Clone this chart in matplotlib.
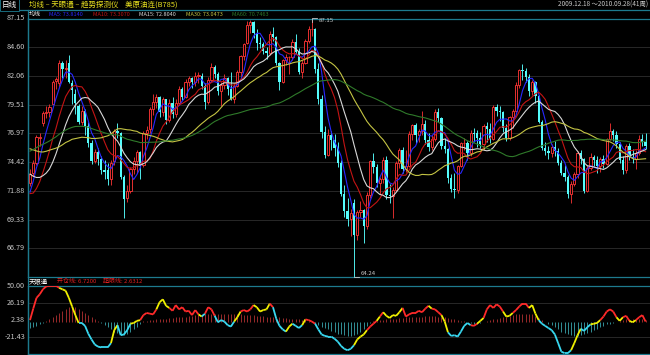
import numpy as np
import pandas as pd
import matplotlib
matplotlib.use("Agg")
import matplotlib.pyplot as plt
from matplotlib.collections import LineCollection
from matplotlib.transforms import blended_transform_factory

plt.rcParams["font.family"] = ["Noto Sans CJK SC", "DejaVu Sans"]

# closes before the first drawn bar, only used to warm up the moving averages
prior_close = [66.02, 66.84, 66.71, 70.61, 70.82, 69.95, 70.41, 70.88, 69.57, 71.69,
               71.77, 73.27, 74.15, 75.18, 77.58, 78.53, 79.61, 79.09, 81.37, 81.19,
               80.50, 78.68, 79.55, 77.46, 79.87, 77.00, 78.13, 79.60, 80.40, 79.62,
               77.43, 79.43, 79.05, 79.28, 76.94, 76.35, 78.90, 79.14, 79.58, 77.46,
               76.72, 77.56, 76.02, 77.96, 76.05, 77.28, 78.37, 76.60, 76.46, 75.47,
               73.93, 72.62, 70.67, 70.54, 69.87, 69.51, 70.69, 72.66, 72.61]

# daily bars 2009.12.18 - 2010.09.28
opens = [72.6, 73.5, 74.4, 76.6, 77.9, 78.8, 78.9, 79.6, 81.6, 81.4,
         83.2, 82.7, 83.2, 81.4, 80.5, 79.4, 78.0, 79.0, 77.6, 76.1,
         74.5, 75.3, 74.7, 73.7, 73.7, 72.9, 74.5, 77.2, 77.0, 73.1,
         71.3, 71.9, 73.8, 74.5, 75.3, 74.2, 77.0, 77.4, 79.1, 79.8,
         80.2, 78.9, 80.0, 78.2, 79.7, 78.7, 79.7, 80.9, 80.2, 81.5,
         81.9, 81.5, 82.1, 82.1, 81.2, 79.8, 81.7, 82.9, 82.2, 80.7,
         81.3, 81.9, 80.9, 80.0, 81.2, 82.4, 83.8, 85.0, 86.6, 86.8,
         85.9, 85.0, 84.9, 84.3, 84.1, 85.8, 85.5, 83.2, 81.5, 83.5,
         83.7, 83.7, 85.1, 84.2, 82.4, 83.2, 85.2, 86.2, 86.2, 82.7,
         80.0, 77.1, 75.1, 76.8, 76.4, 75.7, 74.4, 71.6, 70.1, 69.4,
         70.8, 68.0, 70.0, 70.2, 68.8, 71.5, 74.5, 74.0, 72.6, 72.9,
         74.6, 71.5, 71.4, 72.0, 74.4, 75.5, 73.8, 74.1, 76.9, 77.7,
         76.8, 77.2, 77.8, 76.4, 75.8, 76.5, 78.9, 78.3, 75.9, 75.6,
         73.0, 72.1, 72.0, 74.1, 76.1, 76.1, 75.2, 77.0, 77.0, 76.6,
         76.0, 77.6, 77.4, 76.5, 79.3, 79.0, 78.9, 77.5, 76.6, 78.4,
         79.0, 81.3, 82.6, 82.5, 82.0, 80.7, 81.5, 80.3, 78.0, 75.7,
         75.4, 75.2, 75.8, 75.4, 74.4, 73.5, 73.1, 71.6, 72.5, 73.4,
         75.2, 74.7, 71.9, 73.9, 74.9, 74.6, 74.1, 74.7, 74.3, 76.5,
         77.2, 76.8, 76.0, 74.6, 73.7, 75.9, 74.9, 74.7, 75.2, 76.5,
         76.2]
highs = [73.8, 74.6, 76.8, 77.0, 79.0, 79.4, 79.6, 81.7, 82.0, 83.5,
         83.4, 83.5, 83.95, 81.7, 80.9, 79.6, 79.4, 79.1, 78.0, 76.4,
         75.6, 75.7, 75.0, 74.6, 74.4, 74.6, 77.4, 77.9, 77.1, 73.3,
         72.4, 74.0, 74.9, 75.5, 75.4, 77.2, 77.6, 79.3, 80.5, 80.5,
         80.3, 80.2, 80.0, 80.0, 80.2, 80.0, 81.2, 81.1, 81.8, 82.1,
         82.0, 82.4, 82.4, 82.3, 81.4, 82.0, 83.2, 83.0, 82.4, 81.5,
         82.2, 82.0, 82.4, 81.4, 82.6, 83.9, 85.0, 86.9, 87.0, 86.9,
         86.2, 85.5, 85.1, 84.6, 86.0, 86.4, 85.6, 83.3, 83.6, 84.0,
         83.8, 85.3, 85.8, 84.5, 83.5, 85.3, 86.5, 87.15, 86.3, 83.2,
         80.4, 77.6, 77.4, 77.2, 76.9, 76.2, 74.6, 72.4, 71.3, 70.3,
         71.2, 70.2, 71.0, 70.3, 71.8, 74.6, 75.2, 74.3, 73.1, 74.9,
         75.0, 72.5, 72.2, 74.5, 75.7, 75.8, 75.5, 77.2, 77.8, 77.9,
         77.4, 79.0, 78.2, 77.0, 76.8, 79.1, 79.2, 78.4, 76.6, 75.7,
         73.4, 73.5, 74.2, 76.2, 76.6, 76.3, 77.3, 77.5, 77.3, 77.1,
         77.8, 78.0, 77.9, 79.5, 79.6, 79.4, 79.0, 77.8, 78.5, 79.1,
         81.5, 82.7, 83.1, 82.8, 82.2, 81.7, 81.6, 80.4, 78.2, 76.2,
         75.9, 76.0, 76.3, 75.7, 74.6, 74.2, 73.3, 72.8, 73.6, 75.4,
         75.5, 74.8, 74.2, 75.2, 75.1, 75.0, 74.9, 75.1, 76.6, 77.9,
         77.4, 77.2, 76.2, 75.0, 76.0, 76.1, 75.6, 75.5, 76.8, 76.9,
         77.0]
lows = [72.3, 73.2, 74.2, 75.9, 77.6, 78.3, 78.4, 79.6, 80.9, 81.1,
        81.9, 81.9, 81.4, 79.6, 78.7, 77.8, 77.7, 76.8, 75.8, 74.3,
        74.4, 74.2, 73.4, 72.9, 72.4, 72.4, 74.2, 76.6, 72.9, 69.5,
        70.9, 71.7, 73.4, 73.5, 72.9, 74.0, 76.5, 77.0, 78.6, 79.2,
        78.4, 78.5, 77.8, 78.0, 78.3, 78.4, 79.5, 79.9, 80.1, 81.2,
        81.0, 81.2, 81.4, 80.9, 79.1, 79.6, 81.5, 81.9, 80.4, 79.4,
        80.9, 80.4, 79.9, 79.7, 81.1, 81.8, 83.5, 84.9, 85.9, 85.4,
        84.4, 84.5, 84.0, 83.6, 83.9, 85.2, 83.0, 80.8, 81.4, 83.0,
        82.2, 83.5, 84.0, 82.2, 81.9, 83.1, 85.0, 85.6, 82.3, 79.6,
        76.6, 74.8, 75.0, 75.5, 75.0, 74.0, 71.4, 69.6, 68.8, 67.9,
        64.24, 67.5, 69.6, 67.3, 68.5, 71.3, 73.5, 72.2, 71.6, 72.6,
        71.2, 70.8, 69.5, 71.9, 73.9, 73.5, 73.6, 74.0, 76.4, 76.1,
        76.2, 76.8, 76.0, 75.4, 75.5, 76.3, 78.0, 75.6, 75.2, 72.6,
        71.8, 71.3, 71.7, 74.0, 75.5, 74.6, 75.0, 76.2, 75.8, 75.7,
        75.5, 76.2, 76.1, 76.4, 78.5, 78.1, 77.1, 76.3, 76.4, 77.5,
        78.9, 81.0, 81.7, 81.5, 80.3, 80.4, 79.7, 77.9, 75.5, 75.1,
        74.7, 74.9, 75.0, 74.2, 73.3, 72.8, 71.3, 70.8, 72.3, 73.0,
        74.3, 71.7, 71.8, 73.7, 74.1, 73.5, 73.6, 73.9, 74.2, 76.4,
        76.3, 75.7, 74.4, 73.4, 73.5, 74.6, 74.4, 73.8, 75.1, 75.9,
        75.6]
closes = [73.4, 74.4, 76.7, 76.7, 78.8, 78.9, 79.3, 81.5, 81.8, 83.2,
          82.7, 82.8, 81.5, 80.8, 79.7, 78.0, 79.0, 77.6, 76.1, 74.5,
          75.3, 74.7, 73.7, 73.6, 72.9, 74.4, 77.2, 77.0, 73.1, 71.2,
          71.9, 73.8, 74.5, 75.3, 74.1, 77.0, 77.3, 79.1, 79.8, 80.2,
          78.9, 80.0, 78.2, 79.7, 78.7, 79.7, 80.9, 80.2, 81.5, 81.9,
          81.5, 82.1, 82.1, 81.2, 79.8, 81.7, 82.9, 82.2, 80.7, 81.3,
          81.9, 80.9, 80.0, 81.2, 82.4, 83.8, 84.9, 86.6, 86.8, 85.9,
          85.0, 84.9, 84.3, 84.1, 85.8, 85.5, 83.2, 81.5, 83.5, 83.7,
          83.7, 85.1, 84.2, 82.4, 83.2, 85.2, 86.2, 86.2, 82.7, 80.0,
          77.1, 75.1, 76.8, 76.4, 75.7, 74.4, 71.6, 70.1, 69.4, 69.9,
          68.0, 70.0, 70.2, 68.8, 71.5, 74.5, 74.0, 72.6, 72.9, 74.6,
          71.5, 71.4, 72.0, 74.4, 75.5, 73.8, 74.1, 76.9, 77.7, 76.8,
          77.2, 77.8, 76.4, 75.8, 76.5, 78.9, 78.3, 75.9, 75.6, 73.0,
          72.1, 72.0, 74.1, 76.1, 76.1, 75.2, 77.0, 76.9, 76.6, 76.0,
          77.6, 77.4, 76.5, 79.3, 79.0, 78.9, 77.5, 76.6, 78.4, 79.0,
          81.3, 82.6, 82.5, 82.0, 80.7, 81.5, 80.3, 78.0, 75.7, 75.4,
          75.2, 75.8, 75.4, 74.4, 73.5, 73.1, 71.6, 72.5, 73.4, 75.2,
          74.7, 71.9, 73.9, 74.9, 74.6, 74.1, 74.7, 74.3, 76.5, 77.2,
          76.8, 76.0, 74.6, 73.7, 75.9, 74.9, 74.7, 75.2, 76.5, 76.2,
          75.9]

ma_periods = [5, 10, 15, 30, 60]
ma_colors = ["#2828ff", "#c41414", "#d8d8d8", "#c4c444", "#2f7a2a"]
ma_labels = ["MA5: 73.8140", "MA10: 73.3070", "MA15: 72.8040", "MA30: 73.0473", "MA60: 70.7463"]
ma_label_x = [49, 93, 139, 186, 232]

price_ticks = [87.15, 84.60, 82.06, 79.51, 76.97, 74.42, 71.88, 69.33, 66.79]
price_min, price_max = 64.24, 87.15

# 天眼通 indicator
ind_line = [2, 18, 33, 38, 45, 49, 50, 50, 50, 47,
            45, 43, 33, 21, 9, -2, -2, -6, -17, -25,
            -32, -35, -36, -36, -36, -30, -12, -5, -19, -18,
            -12, -3, -2, 1, 2, 9, 12, 11, 10, 17,
            27, 31, 22, 19, 15, 23, 17, 20, 14, 15,
            9, 16, 10, 7, 11, 20, 17, 8, -1, 2,
            0, -5, -7, 0, 6, 14, 16, 14, 17, 23,
            20, 14, 16, 17, 25, 20, 4, -6, -11, -14,
            -7, -3, -6, -9, -5, 3, 2, 0, -3, -11,
            -18, -20, -21, -21, -24, -28, -34, -38, -40, -38,
            -33, -25, -21, -18, -12, -7, -3, 1, 7, 13,
            8, 5, 9, 8, 13, 19, 7, 10, 12, 12,
            15, 13, 18, 22, 18, 17, 13, 9, 0, -15,
            -20, -19, -21, -14, -6, -2, -5, -6, -3, 1,
            5, 17, 23, 19, 24, 21, 14, 7, 8, 12,
            16, 21, 25, 25, 19, 23, 11, 2, -3, -6,
            -9, -12, -18, -30, -42, -44, -44, -40, -30, -19,
            -10, -13, -8, -4, -3, -2, 2, 7, 14, 17,
            14, 6, 1, 6, 8, 1, -1, 2, 6, 9,
            0]
line_color_runs = [("r", 10), ("y", 6), ("c", 10), ("y", 2), ("c", 4), ("y", 3),
                   ("r", 5), ("y", 4), ("r", 9), ("y", 1), ("c", 1), ("r", 3),
                   ("c", 6), ("y", 2), ("r", 4), ("y", 5), ("r", 1), ("c", 4),
                   ("y", 2), ("c", 3), ("y", 1), ("r", 3), ("c", 12), ("y", 4),
                   ("r", 3), ("y", 1), ("r", 1), ("y", 6), ("r", 8), ("y", 1),
                   ("r", 3), ("y", 2), ("c", 7), ("r", 2), ("y", 2), ("r", 6),
                   ("y", 3), ("r", 5), ("y", 3), ("c", 10), ("y", 3), ("c", 3),
                   ("y", 3), ("r", 5), ("y", 2), ("r", 2), ("y", 2), ("r", 3)]
ind_hist = [-9, -8, -6, -4, -2,
            1, 3, 6, 9, 12, 15, 18, 20, 21, 20, 18, 15, 12, 9, 6, 3, 1,
            -2, -5, -8, -11, -14, -16, -18, -19, -18, -15, -11, -7, -3,
            1, 1, 2, 2, 3, 3, 4, 4, 5, 5, 6, 6, 7, 7, 8, 8, 9, 9, 10, 10,
            10, 11, 11, 11, 11, 11, 11, 10, 10, 10, 10, 9, 9, 9, 9, 8, 8, 8,
            7, 7, 7, 6, 6, 5, 5, 4, 4, 3, 3, 2, 2, 1,
            -1, -3, -5, -7, -9, -11, -13, -15, -17, -18, -19, -20, -20, -19,
            -17, -14, -10, -6, -2,
            1, 1, 2, 2, 3, 3, 4, 4, 5, 5, 6, 6, 6, 7, 7, 7, 8, 8, 8, 8,
            7, 7, 6, 5, 4, 3, 2, 1, 1,
            -1, -2, -3, -3, -2, -1,
            1, 2, 3, 4, 5, 6, 7, 8, 9, 10, 10, 11, 11, 11, 10, 8, 5, 2,
            -1, -3, -5, -8, -11, -14, -16, -18, -19, -20, -20, -19, -18, -16,
            -14, -12, -10, -8, -6, -4, -3, -2, -1,
            1, 2, 3, 3, 4, 4, 3, 3, 2]
ind_ticks = [50.00, 26.19, 2.38, -21.43]
ind_min, ind_max = -45.24, 50.00

RED = "#e83030"
CYAN = "#54fcfc"
FRAME = "#1d7a8e"
GRID = "#2e2e2e"
LABEL = "#c8c8c8"
LINE_COLORS = {"r": "#ff2a2a", "y": "#f0f000", "c": "#38d8f0"}

W, H = 650, 355
left, right = 27.5, 650
main_top, main_bot = 18.5, 277.3
ind_top, ind_bot = 285.7, 354.0
x0, step = 30.0, 3.24

n = len(closes)
xs = np.arange(n)
o, hi, lo, c = (np.array(v, dtype=float) for v in (opens, highs, lows, closes))

fig = plt.figure(figsize=(W / 100, H / 100), dpi=100, facecolor="black")
ax = fig.add_axes([left / W, 1 - main_bot / H, (right - left) / W, (main_bot - main_top) / H])
ax2 = fig.add_axes([left / W, 1 - ind_bot / H, (right - left) / W, (ind_bot - ind_top) / H])
xlim = ((left - x0) / step, (right - x0) / step)

for a in (ax, ax2):
    a.set_facecolor("black")
    a.set_xlim(*xlim)
    a.set_xticks([])
    a.set_yticks([])
    for side in ("top", "bottom", "left"):
        a.spines[side].set_color(FRAME)
        a.spines[side].set_linewidth(0.9)
    a.spines["right"].set_visible(False)

# ---- main price panel
ax.set_ylim(price_min, price_max)
ax.hlines(price_ticks[1:], *xlim, color=GRID, lw=0.6, zorder=0)

up = c >= o
body = np.maximum(np.abs(c - o), 0.04)
ax.vlines(xs[up], lo[up], hi[up], color=RED, lw=0.65, zorder=2)
ax.vlines(xs[~up], lo[~up], hi[~up], color=CYAN, lw=0.65, zorder=2)
ax.bar(xs[up], body[up], bottom=o[up], width=0.7, facecolor="black",
       edgecolor=RED, linewidth=0.7, zorder=3)
ax.bar(xs[~up], body[~up], bottom=c[~up], width=0.7, color=CYAN,
       linewidth=0, zorder=3)

all_close = pd.Series(prior_close + closes)
for p, col in zip(ma_periods, ma_colors):
    ma = all_close.rolling(p).mean().iloc[len(prior_close):].to_numpy()
    ax.plot(xs, ma, color=col, lw=0.8, zorder=4)

ylab = blended_transform_factory(fig.transFigure, ax.transData)
for t in price_ticks:
    ax.text(25 / W, t, f"{t:.2f}", transform=ylab, ha="right", va="center",
            color=LABEL, fontsize=5.2, clip_on=False)

# high / low markers
i_hi = int(np.argmax(hi))
ax.plot([i_hi, i_hi, i_hi + 1.6], [hi[i_hi] - 0.35, hi[i_hi], hi[i_hi]],
        color=LABEL, lw=0.6, clip_on=False, zorder=5)
ax.text(i_hi + 2.0, hi[i_hi] - 0.15, f"{hi[i_hi]:.2f}", color=LABEL,
        fontsize=4.3, va="center", ha="left", clip_on=False)
i_lo = int(np.argmin(lo))
ax.plot([i_lo, i_lo + 1.6], [lo[i_lo], lo[i_lo]], color=LABEL, lw=0.6,
        clip_on=False, zorder=5)
ax.text(i_lo + 2.0, lo[i_lo] + 0.35, f"{lo[i_lo]:.2f}", color=LABEL,
        fontsize=4.3, va="center", ha="left", clip_on=False)

# ---- indicator panel
ax2.set_ylim(ind_min, ind_max)
ax2.hlines([26.19, -21.43], *xlim, color=GRID, lw=0.6, zorder=0)
hist = np.array(ind_hist, dtype=float)
ax2.vlines(xs[hist > 0], 0, hist[hist > 0], color="#b03030", lw=0.6, zorder=1)
ax2.vlines(xs[hist <= 0], 0, hist[hist <= 0], color="#3aa6ae", lw=0.6, zorder=1)

seg_codes = [code for code, cnt in line_color_runs for _ in range(cnt)]
pts = np.column_stack([xs, ind_line])
segs = np.stack([pts[:-1], pts[1:]], axis=1)
lc = LineCollection(segs, colors=[LINE_COLORS[k] for k in seg_codes[1:]],
                    linewidths=1.3, zorder=3)
ax2.add_collection(lc)

ylab2 = blended_transform_factory(fig.transFigure, ax2.transData)
for t in ind_ticks:
    ax2.text(25 / W, t, f"{t:.2f}", transform=ylab2, ha="right", va="center",
             color=LABEL, fontsize=5.2, clip_on=False)

# ---- frame lines and header text
fig.add_artist(plt.Line2D([0, 1], [1 - 10 / H, 1 - 10 / H], color=FRAME, lw=0.9))
fig.add_artist(plt.Line2D([left / W, left / W], [0, 1 - 10 / H], color=FRAME, lw=0.9))

fig.text(2 / W, 1 - 5 / H, "日线", color="white", fontsize=5.5, va="center",
         bbox=dict(boxstyle="square,pad=0.2", fc="black", ec=FRAME, lw=0.6))
fig.text(29 / W, 1 - 5 / H, "均线 – 天眼通 – 趋势探测仪    美原油连(B785)",
         color="#e8e020", fontsize=5.4, va="center")
fig.text(558 / W, 1 - 5 / H, "2009.12.18 ～2010.09.28(41周)", color=LABEL,
         fontsize=4.6, va="center")

fig.text(29 / W, 1 - 14.3 / H, "均线", color="white", fontsize=4.3, va="center")
for lab, col, px in zip(ma_labels, ma_colors, ma_label_x):
    fig.text(px / W, 1 - 14.3 / H, lab, color=col, fontsize=4.0, va="center")

fig.text(29 / W, 1 - 281.5 / H, "天眼通", color="white", fontsize=4.6, va="center")
fig.text(57 / W, 1 - 281.5 / H, "开仓线: 6.7200", color="#e02020", fontsize=4.3, va="center")
fig.text(103 / W, 1 - 281.5 / H, "超限线: 2.6312", color="#e02020", fontsize=4.3, va="center")

fig.savefig("out.png", dpi=100, facecolor="black")
